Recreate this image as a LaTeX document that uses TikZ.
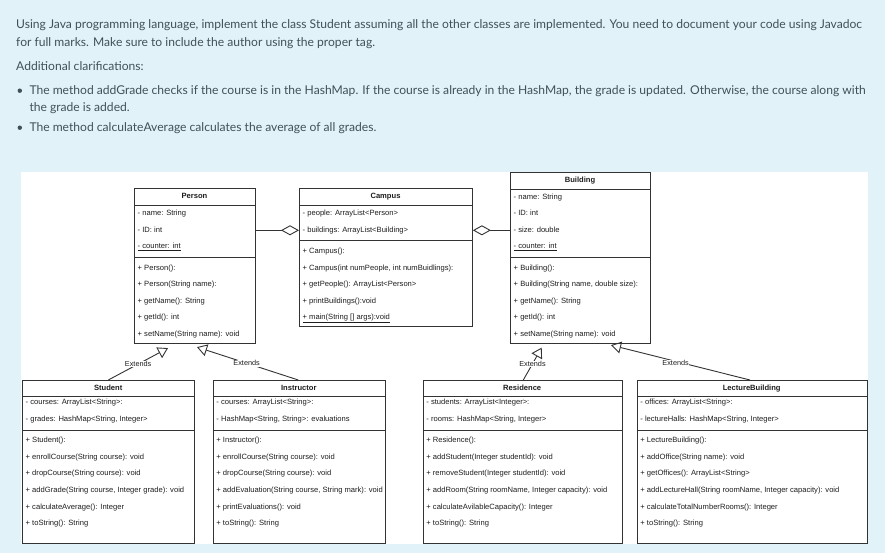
\documentclass[tikz,border=0pt]{standalone}
\usepackage{fontspec}
\setmainfont{Liberation Sans}
\newfontfamily\qfont{Lato}
\usetikzlibrary{arrows.meta,calc}
\definecolor{bg}{RGB}{225,243,248}
\definecolor{qtext}{RGB}{66,80,90}
\definecolor{ln}{RGB}{51,51,51}
\definecolor{tx}{RGB}{30,30,30}
\tikzset{
  qline/.style={anchor=base west,inner sep=0,text=qtext,font=\qfont\fontsize{12.1}{14}\selectfont},
  qbullet/.style={circle,fill=qtext,inner sep=0,minimum size=4.4pt},
  box/.style={draw=ln,line width=0.9pt,fill=white,inner sep=0,anchor=north west},
  sepline/.style={draw=ln,line width=0.9pt},
  row/.style={anchor=west,inner sep=0,text=tx,font=\fontsize{7.6}{9}\selectfont,text height=5.4pt,text depth=1.6pt},
  head/.style={inner sep=0,text=tx,font=\fontsize{7.6}{9}\selectfont\bfseries,text height=5.4pt,text depth=1.6pt},
  agg/.style={draw=ln,line width=0.9pt,-{Diamond[open,length=18pt,width=10pt]}},
  inh/.style={draw=ln,line width=0.9pt,-{Triangle[open,length=10pt,width=12pt]}},
  lbl/.style={fill=white,inner sep=0.6pt,text=tx,font=\fontsize{7.3}{8}\selectfont}
}
\begin{document}
\begin{tikzpicture}[x=1pt,y=-1pt]
\fill[bg] (0,0) rectangle (885,553);
\useasboundingbox (0,0) rectangle (885,553);
% question text
\node[qline] (q1) at (16,28.8) {Using Java programming language, implement the class Student assuming all the other classes are implemented. You need to document your code using Javadoc};
\node[qline] (q2) at (16,47) {for full marks. Make sure to include the author using the proper tag.};
\node[qline] (q3) at (16,71) {Additional clarifications:};
\node[qbullet] (b1) at (19.8,90.7) {};
\node[qline] (q4) at (29.3,94.4) {The method addGrade checks if the course is in the HashMap. If the course is already in the HashMap, the grade is updated. Otherwise, the course along with};
\node[qline] (q5) at (29.3,112) {the grade is added.};
\node[qbullet] (b2) at (19.8,127.7) {};
\node[qline] (q6) at (29.3,131.4) {The method calculateAverage calculates the average of all grades.};
% white panel
\fill[white] (21,172) rectangle (868,544);
% ---- Person
\node[box,minimum width=121,minimum height=154.4] (person) at (134,188.3) {};
\draw[sepline] (134,205) -- (255,205);
\draw[sepline] (134,257.3) -- (255,257.3);
\node[head] (p-h) at (194.5,196.7) {Person};
\node[row] (p-a1) at (137.5,213.3) {- name: String};
\node[row] (p-a2) at (137.5,230.3) {- ID: int};
\node[row] (p-a3) at (137.5,246.7) {\underline{- counter: int}};
\foreach \t [count=\i] in {{+ Person():},{+ Person(String name):},{+ getName(): String},{+ getId(): int},{+ setName(String name): void}}
  \node[row] (p-m\i) at (137.5,{268.3+(\i-1)*16.5}) {\t};
% ---- Campus
\node[box,minimum width=173,minimum height=137.7] (campus) at (299,188.3) {};
\draw[sepline] (299,205) -- (472,205);
\draw[sepline] (299,240.7) -- (472,240.7);
\node[head] (c-h) at (385.5,196.7) {Campus};
\node[row] (c-a1) at (302.5,213.3) {- people: ArrayList<Person>};
\node[row] (c-a2) at (302.5,230.3) {- buildings: ArrayList<Building>};
\foreach \t [count=\i] in {{+ Campus():},{+ Campus(int numPeople, int numBuidlings):},{+ getPeople(): ArrayList<Person>},{+ printBuildings():void}}
  \node[row] (c-m\i) at (302.5,{252+(\i-1)*16.45}) {\t};
\node[row] (c-m5) at (302.5,317.7) {\underline{+ main(String [] args):void}};
% ---- Building
\node[box,minimum width=140,minimum height=170.4] (building) at (510,172.3) {};
\draw[sepline] (510,189) -- (650,189);
\draw[sepline] (510,257.3) -- (650,257.3);
\node[head] (bd-h) at (580,180.7) {Building};
\node[row] (bd-a1) at (513.5,197.7) {- name: String};
\node[row] (bd-a2) at (513.5,214) {- ID: int};
\node[row] (bd-a3) at (513.5,230.3) {- size: double};
\node[row] (bd-a4) at (513.5,246.7) {\underline{- counter: int}};
\foreach \t [count=\i] in {{+ Building():},{+ Building(String name, double size):},{+ getName(): String},{+ getId(): int},{+ setName(String name): void}}
  \node[row] (bd-m\i) at (513.5,{268.3+(\i-1)*16.5}) {\t};
% ---- Student
\node[box,minimum width=172.3,minimum height=162.7] (student) at (22,380) {};
\draw[sepline] (22,396.7) -- (194.3,396.7);
\draw[sepline] (22,430.7) -- (194.3,430.7);
\node[head] (s-h) at (108.2,388.3) {Student};
\node[row] (s-a1) at (25.5,402.7) {- courses: ArrayList<String>:};
\node[row] (s-a2) at (25.5,419.3) {- grades: HashMap<String, Integer>};
\foreach \t [count=\i] in {{+ Student():},{+ enrollCourse(String course): void},{+ dropCourse(String course): void},{+ addGrade(String course, Integer grade): void},{+ calculateAverage(): Integer},{+ toString(): String}}
  \node[row] (s-m\i) at (25.5,{441+(\i-1)*16.54}) {\t};
% ---- Instructor
\node[box,minimum width=172.3,minimum height=162.7] (instructor) at (212.7,380) {};
\draw[sepline] (212.7,396.7) -- (385,396.7);
\draw[sepline] (212.7,430.7) -- (385,430.7);
\node[head] (i-h) at (298.8,388.3) {Instructor};
\node[row] (i-a1) at (216.2,402.7) {- courses: ArrayList<String>:};
\node[row] (i-a2) at (216.2,419.3) {- HashMap<String, String>: evaluations};
\foreach \t [count=\i] in {{+ Instructor():},{+ enrollCourse(String course): void},{+ dropCourse(String course): void},{+ addEvaluation(String course, String mark): void},{+ printEvaluations(): void},{+ toString(): String}}
  \node[row] (i-m\i) at (216.2,{441+(\i-1)*16.54}) {\t};
% ---- Residence
\node[box,minimum width=199,minimum height=162.7] (residence) at (422.7,380) {};
\draw[sepline] (422.7,396.7) -- (621.7,396.7);
\draw[sepline] (422.7,430.7) -- (621.7,430.7);
\node[head] (r-h) at (522.2,388.3) {Residence};
\node[row] (r-a1) at (426.2,402.7) {- students: ArrayList<Integer>:};
\node[row] (r-a2) at (426.2,419.3) {- rooms: HashMap<String, Integer>};
\foreach \t [count=\i] in {{+ Residence():},{+ addStudent(Integer studentId): void},{+ removeStudent(Integer studentId): void},{+ addRoom(String roomName, Integer capacity): void},{+ calculateAvilableCapacity(): Integer},{+ toString(): String}}
  \node[row] (r-m\i) at (426.2,{441+(\i-1)*16.54}) {\t};
% ---- LectureBuilding
\node[box,minimum width=230,minimum height=162.7] (lecture) at (636.7,380) {};
\draw[sepline] (636.7,396.7) -- (866.7,396.7);
\draw[sepline] (636.7,430.7) -- (866.7,430.7);
\node[head] (l-h) at (751.7,388.3) {LectureBuilding};
\node[row] (l-a1) at (640.2,402.7) {- offices: ArrayList<String>:};
\node[row] (l-a2) at (640.2,419.3) {- lectureHalls: HashMap<String, Integer>};
\foreach \t [count=\i] in {{+ LectureBuilding():},{+ addOffice(String name): void},{+ getOffices(): ArrayList<String>},{+ addLectureHall(String roomName, Integer capacity): void},{+ calculateTotalNumberRooms(): Integer},{+ toString(): String}}
  \node[row] (l-m\i) at (640.2,{441+(\i-1)*16.54}) {\t};
% ---- aggregations
\draw[agg] (person.east |- c-a2) -- (campus.west |- c-a2);
\draw[agg] (building.west |- c-a2) -- (campus.east |- c-a2);
% ---- inheritance
\draw[inh] ($(student.north west)+(86.3,0)$) -- node[lbl,pos=0.5] (e1) {Extends} ($(person.south west)+(34,4.5)$);
\draw[inh] ($(instructor.north west)+(85.6,0)$) -- node[lbl,pos=0.51] (e2) {Extends} ($(person.south west)+(63,3.5)$);
\draw[inh] ($(residence.north west)+(100.6,0)$) -- node[lbl,pos=0.5] (e3) {Extends} ($(building.south west)+(31.7,4)$);
\draw[inh] ($(lecture.north west)+(113.3,0)$) -- node[lbl,pos=0.535,yshift=-2pt] (e4) {Extends} ($(building.south west)+(101,1.5)$);
\end{tikzpicture}
\end{document}
